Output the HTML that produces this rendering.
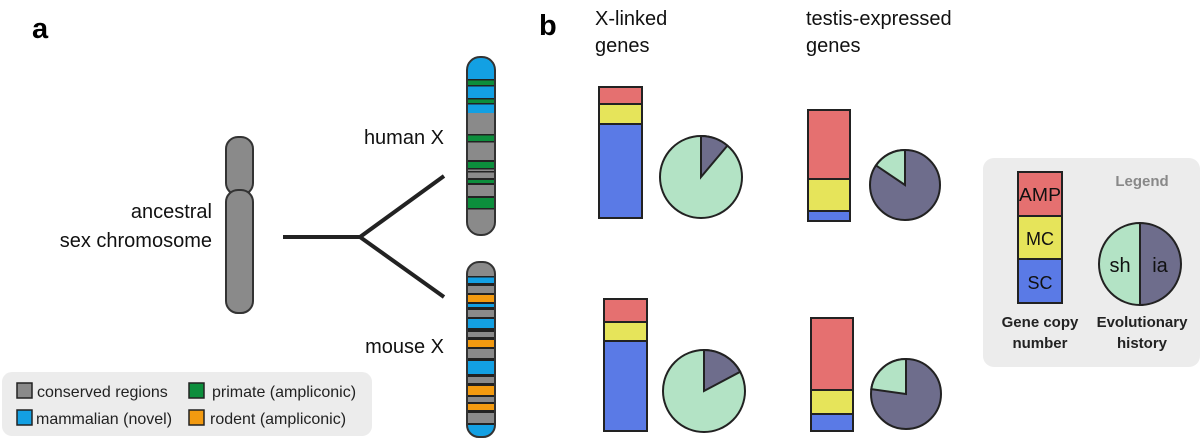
<!DOCTYPE html>
<html><head><meta charset="utf-8"><style>
html,body{margin:0;padding:0;background:#fff;}
svg{display:block;font-family:"Liberation Sans",sans-serif;}
</style></head><body>
<svg width="1200" height="445" viewBox="0 0 1200 445" xmlns="http://www.w3.org/2000/svg">
<defs>
<clipPath id="hc"><rect x="467" y="57" width="28" height="178" rx="13"/></clipPath>
<clipPath id="mc"><rect x="467" y="262" width="28" height="175" rx="12"/></clipPath>
</defs>
<text x="32" y="38" font-size="29" font-weight="bold">a</text>
<text x="539" y="35" font-size="29" font-weight="bold">b</text>
<g font-size="20" fill="#111">
<text x="212" y="218" text-anchor="end">ancestral</text>
<text x="212" y="247" text-anchor="end">sex chromosome</text>
<text x="444" y="144" text-anchor="end">human X</text>
<text x="444" y="353" text-anchor="end">mouse X</text>
<text x="595" y="25">X-linked</text>
<text x="595" y="52">genes</text>
<text x="806" y="25">testis-expressed</text>
<text x="806" y="52">genes</text>
</g>
<rect x="226" y="137" width="27" height="58" rx="12" fill="#8a8a8a" stroke="#333" stroke-width="2"/>
<rect x="226" y="190" width="27" height="123" rx="12" fill="#8a8a8a" stroke="#333" stroke-width="2"/>
<g stroke="#222" stroke-width="4" fill="none">
<line x1="283" y1="237" x2="361" y2="237"/>
<line x1="360" y1="237" x2="444" y2="176"/>
<line x1="360" y1="237" x2="444" y2="297"/>
</g>
<g clip-path="url(#hc)">
<rect x="467" y="57" width="28" height="178" fill="#8a8a8a"/>
<rect x="467" y="57" width="28" height="56" fill="#13a0e3"/>
<g fill="#0c8e3c">
<rect x="467" y="80" width="28" height="5"/>
<rect x="467" y="99" width="28" height="4"/>
<rect x="467" y="135" width="28" height="6"/>
<rect x="467" y="162" width="28" height="6"/>
<rect x="467" y="180" width="28" height="3"/>
<rect x="467" y="198" width="28" height="10"/>
</g>
<g fill="#222">
<rect x="467" y="79" width="28" height="1.5"/><rect x="467" y="85" width="28" height="1.5"/>
<rect x="467" y="98" width="28" height="1.5"/><rect x="467" y="103" width="28" height="1.5"/>
<rect x="467" y="134" width="28" height="1.5"/><rect x="467" y="141" width="28" height="1.5"/>
<rect x="467" y="160" width="28" height="2"/><rect x="467" y="168" width="28" height="1.5"/>
<rect x="467" y="171" width="28" height="1.5"/><rect x="467" y="178" width="28" height="2"/>
<rect x="467" y="183" width="28" height="2"/><rect x="467" y="196" width="28" height="2"/>
<rect x="467" y="208" width="28" height="1.5"/>
</g>
</g>
<rect x="467" y="57" width="28" height="178" rx="13" fill="none" stroke="#333" stroke-width="2"/>
<g clip-path="url(#mc)">
<rect x="467" y="262" width="28" height="175" fill="#8a8a8a"/>
<g fill="#13a0e3">
<rect x="467" y="277" width="28" height="6"/>
<rect x="467" y="304" width="28" height="3"/>
<rect x="467" y="319" width="28" height="9"/>
<rect x="467" y="361" width="28" height="13"/>
<rect x="467" y="425" width="28" height="12"/>
</g>
<g fill="#f39a10">
<rect x="467" y="295" width="28" height="7"/>
<rect x="467" y="340" width="28" height="7"/>
<rect x="467" y="386" width="28" height="9"/>
<rect x="467" y="404" width="28" height="6"/>
</g>
<g fill="#222">
<rect x="467" y="276" width="28" height="1.5"/><rect x="467" y="283" width="28" height="3"/>
<rect x="467" y="293" width="28" height="2"/><rect x="467" y="302" width="28" height="2"/>
<rect x="467" y="307" width="28" height="3"/><rect x="467" y="317" width="28" height="2"/>
<rect x="467" y="328" width="28" height="4"/><rect x="467" y="337" width="28" height="3"/>
<rect x="467" y="347" width="28" height="2"/><rect x="467" y="358" width="28" height="3"/>
<rect x="467" y="374" width="28" height="3"/><rect x="467" y="383" width="28" height="3"/>
<rect x="467" y="395" width="28" height="2"/><rect x="467" y="402" width="28" height="2"/>
<rect x="467" y="410" width="28" height="3"/><rect x="467" y="423" width="28" height="2"/>
</g>
</g>
<rect x="467" y="262" width="28" height="175" rx="12" fill="none" stroke="#333" stroke-width="2"/>
<rect x="2" y="372" width="370" height="64" rx="10" fill="#ececec"/>
<g stroke="#222" stroke-width="1.5">
<rect x="17" y="383" width="15" height="15" fill="#8a8a8a"/>
<rect x="17" y="410" width="15" height="15" fill="#13a0e3"/>
<rect x="189" y="383" width="15" height="15" fill="#0c8e3c"/>
<rect x="189" y="410" width="15" height="15" fill="#f39a10"/>
</g>
<g font-size="16" fill="#222">
<text x="37" y="397">conserved regions</text>
<text x="36" y="424">mammalian (novel)</text>
<text x="212" y="397">primate (ampliconic)</text>
<text x="210" y="424">rodent (ampliconic)</text>
</g>
<g stroke="#222" stroke-width="2">
<rect x="599" y="87" width="43" height="17" fill="#e57070"/>
<rect x="599" y="104" width="43" height="20" fill="#e6e45a"/>
<rect x="599" y="124" width="43" height="94" fill="#5a7ae6"/>
<rect x="808" y="110" width="42" height="69" fill="#e57070"/>
<rect x="808" y="179" width="42" height="32" fill="#e6e45a"/>
<rect x="808" y="211" width="42" height="10" fill="#5a7ae6"/>
<rect x="604" y="299" width="43" height="23" fill="#e57070"/>
<rect x="604" y="322" width="43" height="19" fill="#e6e45a"/>
<rect x="604" y="341" width="43" height="90" fill="#5a7ae6"/>
<rect x="811" y="318" width="42" height="72" fill="#e57070"/>
<rect x="811" y="390" width="42" height="24" fill="#e6e45a"/>
<rect x="811" y="414" width="42" height="17" fill="#5a7ae6"/>
</g>
<g stroke="#222" stroke-width="2">
<circle cx="701" cy="177" r="41" fill="#b3e3c5"/>
<path d="M701,177 L701,136 A41,41 0 0 1 727.4,145.6 Z" fill="#6e6d8c"/>
<circle cx="905" cy="185" r="35" fill="#6e6d8c"/>
<path d="M905,185 L876,165.4 A35,35 0 0 1 905,150 Z" fill="#b3e3c5"/>
<circle cx="704" cy="391" r="41" fill="#b3e3c5"/>
<path d="M704,391 L704,350 A41,41 0 0 1 740.2,371.8 Z" fill="#6e6d8c"/>
<circle cx="906" cy="394" r="35" fill="#6e6d8c"/>
<path d="M906,394 L871.3,389.1 A35,35 0 0 1 906,359 Z" fill="#b3e3c5"/>
</g>
<rect x="983" y="158" width="217" height="209" rx="11" fill="#ececec"/>
<text x="1142" y="186" font-size="15" font-weight="bold" fill="#888" text-anchor="middle">Legend</text>
<g stroke="#222" stroke-width="2">
<rect x="1018" y="172" width="44" height="44" fill="#e57070"/>
<rect x="1018" y="216" width="44" height="43" fill="#e6e45a"/>
<rect x="1018" y="259" width="44" height="44" fill="#5a7ae6"/>
<path d="M1140,223 A41,41 0 0 0 1140,305 Z" fill="#b3e3c5"/>
<path d="M1140,223 A41,41 0 0 1 1140,305 Z" fill="#6e6d8c"/>
</g>
<g font-size="18" fill="#111" text-anchor="middle">
<text x="1040" y="201" textLength="42" lengthAdjust="spacingAndGlyphs">AMP</text>
<text x="1040" y="245">MC</text>
<text x="1040" y="289">SC</text>
<text x="1120" y="272" font-size="20">sh</text>
<text x="1160" y="272" font-size="20">ia</text>
</g>
<g font-size="15" font-weight="bold" fill="#222" text-anchor="middle">
<text x="1040" y="327">Gene copy</text>
<text x="1040" y="348">number</text>
<text x="1142" y="327">Evolutionary</text>
<text x="1142" y="348">history</text>
</g>
</svg>
</body></html>
